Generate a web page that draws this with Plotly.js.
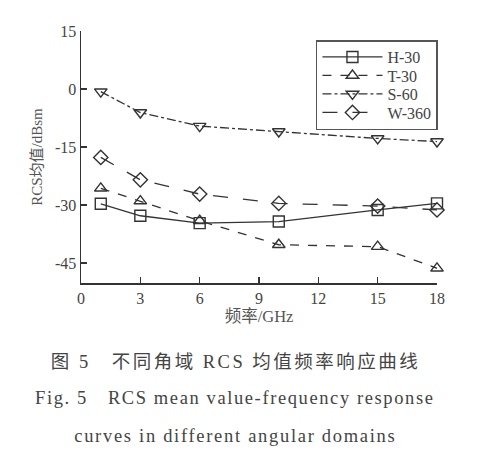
<!DOCTYPE html>
<html><head><meta charset="utf-8">
<script src="https://cdn.plot.ly/plotly-3.0.1.min.js"></script>
<style>html,body{margin:0;padding:0;background:#fff}</style>
</head><body>
<div id="chart" style="width:504px;height:465px"></div>
<script>
var freq = [1, 3, 6, 10, 15, 18];
var h30 = [-29.7, -32.8, -34.7, -34.3, -31.3, -29.6];
var t30 = [-25.7, -29.0, -34.1, -40.3, -40.8, -46.4];
var s60 = [-0.7, -6.1, -9.6, -11.0, -12.8, -13.6];
var w360 = [-17.7, -23.5, -27.2, -29.6, -30.3, -31.3];
var names = ['H-30', 'T-30', 'S-60', 'W-360'];
var xTicks = [0, 3, 6, 9, 12, 15, 18];
var yTicks = [15, 0, -15, -30, -45];
var captions = ['图 5\u2003不同角域 RCS 均值频率响应曲线',
                'Fig. 5\u2003RCS mean value-frequency response',
                'curves in different angular domains'];

var F = "'Liberation Serif', 'Times New Roman', 'Noto Sans CJK SC', serif";
var C = '#333';
function tr(y, name, dash, sym) {
  return {x: freq, y: y, name: name, type: 'scatter', mode: 'lines+markers',
    cliponaxis: false,
    line: {color: C, width: 1.3, dash: dash},
    marker: {symbol: sym, size: 11, color: C, line: {color: C, width: 1.4}}};
}
var data = [
  tr(h30, names[0], 'solid', 'square-open'),
  tr(t30, names[1], 'dash', 'triangle-up-open'),
  tr(s60, names[2], 'dashdot', 'triangle-down-open'),
  tr(w360, names[3], 'longdash', 'diamond-open')
];
var capY = [-0.313, -0.456, -0.607];
var layout = {
  width: 504, height: 465,
  margin: {l: 81, r: 67, t: 31, b: 182},
  paper_bgcolor: '#fff', plot_bgcolor: '#fff',
  font: {family: F, size: 15, color: '#444'},
  showlegend: true,
  legend: {x: 0.66, y: 0.964, xanchor: 'left', yanchor: 'top',
    bordercolor: '#555', borderwidth: 1.5, bgcolor: '#fff',
    font: {family: F, size: 16, color: '#444'}, itemwidth: 60,
    tracegroupgap: 0},
  xaxis: {range: [0, 18], tickvals: xTicks, ticktext: xTicks.map(String),
    ticks: 'inside', ticklen: 6, tickcolor: C, tickwidth: 1.3,
    showline: true, linecolor: C, linewidth: 1.5, showgrid: false, zeroline: false,
    title: {text: '频率/GHz', font: {family: F, size: 16.5, color: '#555'}, standoff: 3},
    tickfont: {family: F, size: 16, color: '#444'}},
  yaxis: {range: [-50.2, 15], tickvals: yTicks, ticktext: yTicks.map(String),
    ticks: 'inside', ticklen: 6, tickcolor: C, tickwidth: 1.3,
    showline: true, linecolor: C, linewidth: 1.5, showgrid: false, zeroline: false,
    title: {text: 'RCS均值/dBsm', font: {family: F, size: 15, color: '#555'}, standoff: 8},
    tickfont: {family: F, size: 16, color: '#444'}},
  annotations: captions.map(function (t, i) {
    return {xref: 'paper', yref: 'paper', x: 0.433, y: capY[i], xanchor: 'center', yanchor: 'middle',
      showarrow: false, text: t, font: {family: F, size: 18.5, color: '#444'}};
  })
};
var spacing = ['2.5px', '1.6px', '1.7px'];
function parseT(s) {
  var m = /translate\(\s*([-\d.e]+)[ ,]+([-\d.e]+)/.exec(s || '');
  return m ? [parseFloat(m[1]), parseFloat(m[2])] : [0, 0];
}
Plotly.newPlot('chart', data, layout, {displayModeBar: false, staticPlot: true}).then(function (gd) {
  var txts = gd.querySelectorAll('.annotation-text');
  txts.forEach(function (el, i) { el.style.letterSpacing = spacing[i]; });
  // tighten legend row spacing to match the reference
  var items = gd.querySelectorAll('.legend .traces');
  if (items.length > 1) {
    var t0 = parseT(items[0].getAttribute('transform'));
    var t1 = parseT(items[1].getAttribute('transform'));
    var oldStep = t1[1] - t0[1];
    var step = 18.5;
    var shift = -1.5;
    items.forEach(function (el, i) {
      var t = parseT(el.getAttribute('transform'));
      el.setAttribute('transform', 'translate(' + t[0] + ',' + (t0[1] + shift + i * step) + ')');
    });
    var bg = gd.querySelector('.legend rect.bg');
    if (bg) {
      var h = parseFloat(bg.getAttribute('height'));
      bg.setAttribute('height', h - (oldStep - step) * (items.length - 1) - 3);
    }
  }
});
</script>
</body></html>
